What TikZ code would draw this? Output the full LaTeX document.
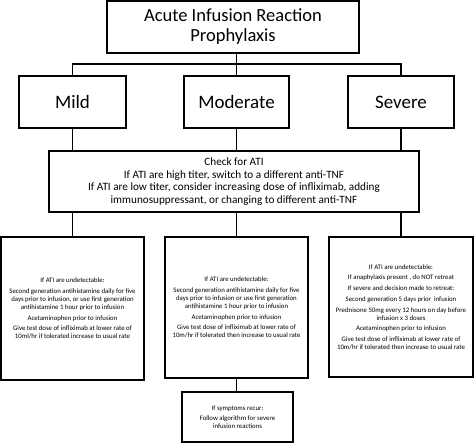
\documentclass[tikz,border=0pt]{standalone}
\usepackage{fontspec}
\setmainfont{Carlito}
\begin{document}
\begin{tikzpicture}[x=1pt,y=-1pt,
  box/.style={draw, line width=1.8pt, inner sep=0pt, align=center},
  small/.style={font=\fontsize{6.8}{7.8}\selectfont},
  link/.style={line width=1.8pt}]
  \useasboundingbox (0,0) rectangle (474,445);
  % top row
  \node[box, minimum width=252pt, minimum height=52pt, font=\fontsize{18.5}{20}\selectfont]
    (title) at (233,27) {Acute Infusion Reaction\\Prophylaxis};
  \node[box, minimum width=107pt, minimum height=52pt, font=\fontsize{19}{21}\selectfont]
    (mild) at (72.5,102) {Mild};
  \node[box, minimum width=105pt, minimum height=52pt, font=\fontsize{19}{21}\selectfont]
    (moderate) at (236.5,102) {Moderate};
  \node[box, minimum width=106pt, minimum height=52pt, font=\fontsize{19}{21}\selectfont]
    (severe) at (401,102) {Severe};
  % ATI check
  \node[box, minimum width=370pt, minimum height=61pt, font=\fontsize{11.2}{12.7}\selectfont]
    (check) at (234,181.5) {Check for ATI\\If ATI are high titer, switch to a different anti-TNF\\
    If ATI are low titer, consider increasing dose of infliximab, adding\\
    immunosuppressant, or changing to different anti-TNF};
  % lower boxes
  \node[box, small, minimum width=143pt, minimum height=143pt] (mildlow) at (72.5,308.5)
    {If ATI are undetectable:\\[3pt]
    Second generation antihistamine daily for five\\days prior to infusion, or use first generation\\
    antihistamine 1 hour prior to infusion\\[3pt]
    Acetaminophen prior to infusion\\[3pt]
    Give test dose of infliximab at lower rate of\\10ml/hr if tolerated increase to usual rate};
  \node[box, small, minimum width=143pt, minimum height=141pt] (moderatelow) at (236.5,307.5)
    {If ATI are undetectable:\\[3pt]
    Second generation antihistamine daily for five\\days prior to infusion or use first generation\\
    antihistamine 1 hour prior to infusion\\[3pt]
    Acetaminophen prior to infusion\\[3pt]
    Give test dose of infliximab at lower rate of\\10m/hr if tolerated then increase to usual rate};
  \node[box, small, minimum width=144pt, minimum height=140pt] (severelow) at (401,307)
    {If ATI are undetectable:\\[3pt]
    If anaphylaxis present , do NOT retreat\\[3pt]
    If severe and decision made to retreat:\\[3pt]
    Second generation 5 days prior\ \ infusion\\[3pt]
    Prednisone 50mg every 12 hours on day before\\infusion x 3 doses\\[3pt]
    Acetaminophen prior to infusion\\[3pt]
    Give test dose of infliximab at lower rate of\\10m/hr if tolerated then increase to usual rate};
  \node[box, small, minimum width=111pt, minimum height=50pt] (recur) at (237.5,417)
    {If symptoms recur:\\[3pt]
    Follow algorithm for severe\\infusion reactions};
  % connectors
  \coordinate (split) at (236.5,64);
  \draw[link] (title.south -| split) -- (split);
  \draw[link] (mild.north) |- (split) -| (severe.north);
  \draw[link] (split) -- (moderate.north);
  \draw[link] (mild.south) -- (mild.south |- check.north);
  \draw[link] (moderate.south) -- (moderate.south |- check.north);
  \draw[link] (severe.south) -- (severe.south |- check.north);
  \draw[link] (mildlow.north |- check.south) -- (mildlow.north);
  \draw[link] (moderatelow.north |- check.south) -- (moderatelow.north);
  \draw[link] (severelow.north |- check.south) -- (severelow.north);
  \draw[link] (moderatelow.south) -- (recur.north -| moderatelow.south);
\end{tikzpicture}
\end{document}
